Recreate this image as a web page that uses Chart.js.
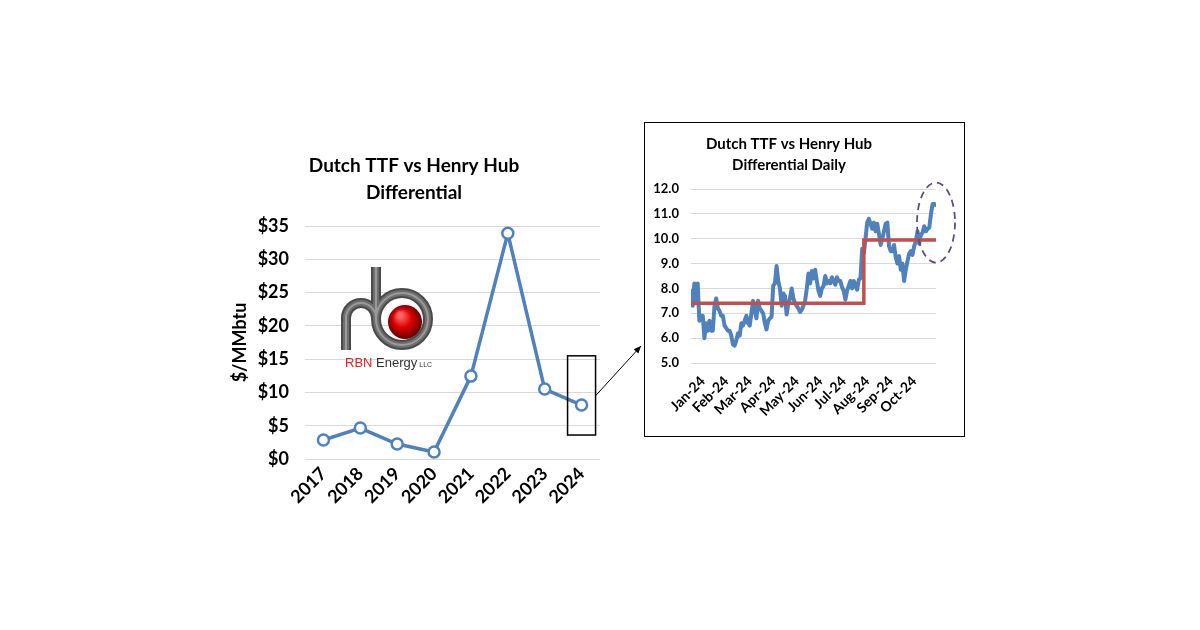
<!DOCTYPE html>
<html>
<head>
<meta charset="utf-8">
<script src="https://cdn.jsdelivr.net/npm/chart.js@4.4.1/dist/chart.umd.min.js"></script>
<style>
  body { margin: 0; background: #fff; width: 1200px; height: 630px; position: relative; overflow: hidden; }
  #leftWrap { position: absolute; left: 200px; top: 140px; width: 443px; height: 400px; }
  #rightWrap { position: absolute; left: 644px; top: 122px; width: 319px; height: 313px; border: 1px solid #000; }
</style>
</head>
<body>
<div id="leftWrap"><canvas id="yearChart" width="443" height="400"></canvas></div>
<div id="rightWrap"><canvas id="dailyChart" width="319" height="313"></canvas></div>
<script>
// annual differential, $/MMbtu
const years = ['2017', '2018', '2019', '2020', '2021', '2022', '2023', '2024'];
const yearValues = [2.85, 4.65, 2.25, 1.05, 12.45, 33.9, 10.5, 8.1];

// daily differential 2024
const dailyValues = [
  7.9, 7.3, 8.2, 7.4, 8.2, 6.7, 6.9, 6.9, 6.0, 6.6,
  6.3, 6.7, 6.3, 6.3, 7.3, 7.6, 7.2, 7.1, 6.9, 6.9,
  6.5, 6.4, 6.3, 6.3, 6.1, 5.75, 5.7, 5.9, 6.2, 6.1,
  6.6, 6.5, 6.7, 6.9, 6.6, 6.5, 7.0, 7.5, 7.1, 6.8,
  7.5, 7.2, 7.1, 7.0, 6.6, 6.35, 6.7, 6.8, 6.85, 8.1,
  8.2, 8.9, 8.3, 8.0, 7.3, 7.8, 7.7, 6.95, 7.4, 7.6,
  8.0, 7.6, 7.4, 7.3, 7.2, 7.05, 7.15, 7.3, 7.5, 8.0,
  8.6, 8.2, 8.7, 8.4, 8.75, 8.3, 7.9, 7.7, 8.0, 8.1,
  8.5, 8.2, 8.3, 8.2, 8.45, 8.3, 8.15, 8.45, 8.3, 8.3,
  8.05, 7.9, 7.55, 7.9, 8.1, 8.3, 8.0, 8.3, 8.1, 7.95,
  8.35, 8.4, 9.6, 9.4, 10.0, 10.65, 10.8, 10.6, 10.4, 10.65,
  10.3, 10.6, 10.2, 9.75, 10.0, 10.3, 10.6, 10.65, 9.7, 9.5,
  9.5, 9.75, 9.25, 9.0, 9.3, 8.75, 9.0, 8.3, 8.75, 9.1,
  9.4, 9.5, 9.35, 9.7, 9.9, 10.3, 9.8, 10.15, 10.25, 10.5,
  10.3, 10.4, 10.45, 11.0, 11.4, 11.4, 11.35
];
// period averages (red step line)
const avgStart = [0, 103];
const avgEnd = [103, 146];
const avgLevel = [7.4, 9.95];

const monthLabels = ['Jan-24', 'Feb-24', 'Mar-24', 'Apr-24', 'May-24', 'Jun-24', 'Jul-24', 'Aug-24', 'Sep-24', 'Oct-24'];
const monthTickIdx = [7, 21, 35, 49, 63, 77, 91, 105, 119, 133];

const blue = '#4f81bd';
const red = '#c0504d';
const gridCol = '#d9d9d9';
const fontFam = 'Lato, "Open Sans", sans-serif';

function drawLogo(ctx) {
    ctx.save();
    ctx.lineCap = 'butt';
    function pipe() {
        ctx.beginPath();
        ctx.moveTo(146, 210);
        ctx.lineTo(146, 178);
        ctx.arc(161, 178, 15, Math.PI, 2 * Math.PI);
        ctx.moveTo(176, 127);
        ctx.lineTo(176, 179);
        ctx.arc(202, 179, 26, Math.PI, -Math.PI, true);
    }
    // red ball
    const g = ctx.createRadialGradient(200, 175, 2, 205, 182, 18);
    g.addColorStop(0, '#ff6a6a');
    g.addColorStop(0.45, '#e00000');
    g.addColorStop(1, '#5c0000');
    ctx.fillStyle = g;
    ctx.beginPath();
    ctx.arc(205, 182, 17, 0, 2 * Math.PI);
    ctx.fill();
    // grey tube
    pipe(); ctx.strokeStyle = '#4a4a4a'; ctx.lineWidth = 10; ctx.stroke();
    pipe(); ctx.strokeStyle = '#6e6e6e'; ctx.lineWidth = 6; ctx.stroke();
    pipe(); ctx.strokeStyle = '#9a9a9a'; ctx.lineWidth = 2; ctx.stroke();
    // text
    ctx.textBaseline = 'alphabetic';
    ctx.font = '13px "Liberation Sans", Arial, sans-serif';
    ctx.fillStyle = '#e31e24';
    ctx.fillText('RBN', 145, 227);
    const w = ctx.measureText('RBN ').width;
    ctx.fillStyle = '#333';
    ctx.fillText('Energy', 145 + w, 227);
    const w2 = ctx.measureText('Energy').width + 2;
    ctx.font = '7px "Liberation Sans", Arial, sans-serif';
    ctx.fillText('LLC', 145 + w + w2, 227);
    ctx.restore();
}

const yearExtras = {
    id: 'yearExtras',
    afterDraw(chart) {
        const ctx = chart.ctx;
        const xs = chart.scales.x, ys = chart.scales.y;
        ctx.save();
        ctx.fillStyle = '#000';
        ctx.textAlign = 'center';
        ctx.textBaseline = 'middle';
        ctx.font = 'bold 19px ' + fontFam;
        ctx.fillText('Dutch TTF vs Henry Hub', 214, 26);
        ctx.fillText('Differential', 214, 53);
        ctx.restore();

        drawLogo(ctx);

        // box around 2024 and arrow to the daily chart
        const cx = xs.getPixelForValue(7);
        const top = ys.getPixelForValue(15.5), bot = ys.getPixelForValue(3.6);
        ctx.save();
        ctx.strokeStyle = '#000';
        ctx.lineWidth = 1.5;
        ctx.strokeRect(cx - 14, top, 28, bot - top);
        const ax = cx + 14, ay = ys.getPixelForValue(9.5);
        const bx = 441, by = 206;
        ctx.lineWidth = 1;
        ctx.beginPath();
        ctx.moveTo(ax, ay);
        ctx.lineTo(bx, by);
        ctx.stroke();
        const ang = Math.atan2(by - ay, bx - ax);
        ctx.fillStyle = '#000';
        ctx.beginPath();
        ctx.moveTo(bx, by);
        ctx.lineTo(bx - 8 * Math.cos(ang - 0.4), by - 8 * Math.sin(ang - 0.4));
        ctx.lineTo(bx - 8 * Math.cos(ang + 0.4), by - 8 * Math.sin(ang + 0.4));
        ctx.closePath();
        ctx.fill();
        ctx.restore();
    }
};

new Chart(document.getElementById('yearChart'), {
    type: 'line',
    data: {
        labels: years,
        datasets: [{
            data: yearValues,
            borderColor: blue,
            borderWidth: 3.5,
            borderJoinStyle: 'round',
            pointRadius: 5.5,
            pointBorderWidth: 2.5,
            pointBackgroundColor: '#fff',
            pointBorderColor: blue,
            tension: 0
        }]
    },
    options: {
        responsive: false,
        animation: false,
        layout: { padding: { top: 86, right: 43, left: 0, bottom: 0 } },
        plugins: { legend: { display: false }, title: { display: false }, tooltip: { enabled: false } },
        scales: {
            x: {
                offset: true,
                grid: { display: false },
                border: { display: false },
                ticks: { color: '#000', font: { family: fontFam, size: 18, weight: 'bold' }, minRotation: 45, maxRotation: 45, padding: -4 },
                afterFit: (axis) => { axis.height = 81; }
            },
            y: {
                min: 0,
                max: 35,
                ticks: { stepSize: 5, color: '#000', padding: 16, font: { family: fontFam, size: 18, weight: 'bold' }, callback: (v) => '$' + v },
                grid: { color: gridCol, drawTicks: false },
                border: { display: false },
                title: { display: true, text: '$/MMbtu', color: '#000', font: { family: fontFam, size: 18, weight: 'bold' }, padding: { top: 29 } },
                afterFit: (axis) => { axis.width = 105; }
            }
        }
    },
    plugins: [yearExtras]
});

const dailyExtras = {
    id: 'dailyExtras',
    afterDraw(chart) {
        const ctx = chart.ctx;
        const xs = chart.scales.x, ys = chart.scales.y;
        ctx.save();
        ctx.fillStyle = '#000';
        ctx.textAlign = 'center';
        ctx.textBaseline = 'middle';
        ctx.font = 'bold 15px ' + fontFam;
        ctx.fillText('Dutch TTF vs Henry Hub', 144, 21);
        ctx.fillText('Differential Daily', 144, 42);
        // dashed ellipse round the latest values
        ctx.strokeStyle = '#5f497a';
        ctx.lineWidth = 1.75;
        ctx.setLineDash([7, 5]);
        ctx.beginPath();
        ctx.ellipse(xs.getPixelForValue(dailyValues.length - 1), ys.getPixelForValue(10.65), 19, 40, 0, 0, 2 * Math.PI);
        ctx.stroke();
        ctx.restore();
    }
};

const avgPoints = [];
for (let i = 0; i < avgLevel.length; i++) {
    avgPoints.push({ x: avgStart[i], y: avgLevel[i] });
    avgPoints.push({ x: avgEnd[i], y: avgLevel[i] });
}

new Chart(document.getElementById('dailyChart'), {
    type: 'line',
    data: {
        datasets: [{
            data: avgPoints,
            borderColor: red,
            borderWidth: 3.5,
            pointRadius: 0,
            tension: 0
        }, {
            data: dailyValues.map((v, i) => ({ x: i, y: v })),
            borderColor: blue,
            borderWidth: 4,
            borderJoinStyle: 'round',
            borderCapStyle: 'round',
            pointRadius: 0,
            tension: 0
        }]
    },
    options: {
        responsive: false,
        animation: false,
        layout: { padding: { top: 66, right: 28, left: 0, bottom: 0 } },
        plugins: { legend: { display: false }, title: { display: false }, tooltip: { enabled: false } },
        scales: {
            x: {
                type: 'linear',
                min: 0,
                max: dailyValues.length - 1,
                afterBuildTicks: (axis) => { axis.ticks = monthTickIdx.map((v) => ({ value: v })); },
                grid: { display: false },
                border: { display: false },
                ticks: {
                    autoSkip: false, minRotation: 45, maxRotation: 45, padding: 2, color: '#000',
                    font: { family: fontFam, size: 14, weight: 'bold' },
                    callback: (v, i) => monthLabels[i]
                },
                afterFit: (axis) => { axis.height = 73; }
            },
            y: {
                min: 5,
                max: 12,
                ticks: { stepSize: 1, color: '#000', padding: 12, font: { family: fontFam, size: 13, weight: 'bold' }, callback: (v) => v.toFixed(1) },
                grid: { color: gridCol, drawTicks: false },
                border: { display: false },
                afterFit: (axis) => { axis.width = 46; }
            }
        }
    },
    plugins: [dailyExtras]
});
</script>
</body>
</html>
